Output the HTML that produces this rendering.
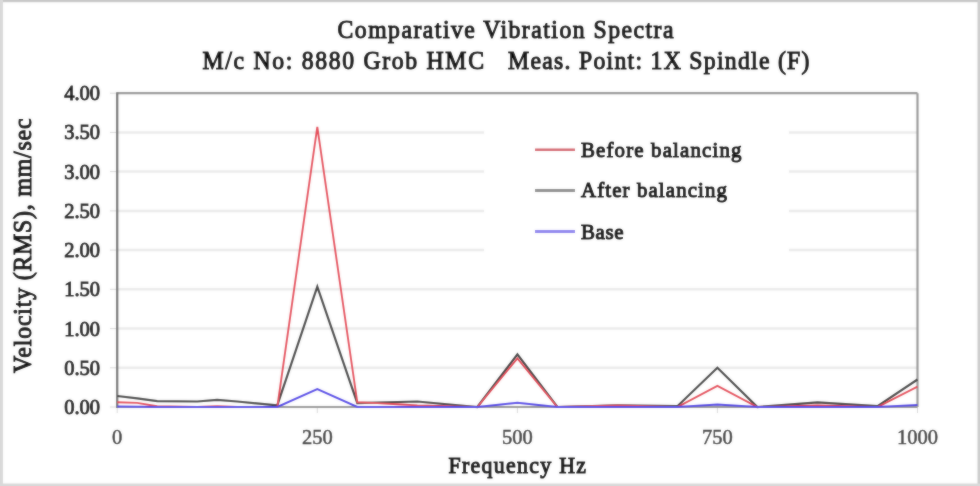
<!DOCTYPE html>
<html><head><meta charset="utf-8"><style>
html,body{margin:0;padding:0;background:#fff;}
body{width:980px;height:486px;overflow:hidden;position:relative;}
svg{position:absolute;left:0;top:0;}
text{font-family:"Liberation Serif",serif;fill:#000000;stroke:#000000;stroke-width:1.1px;}
.lb text{fill:#111;stroke:#111;stroke-width:0.9px;}
.lbx text{fill:#333;stroke:#333;stroke-width:0.5px;}
</style></head><body>
<svg width="980" height="486" viewBox="0 0 980 486">
<defs><filter id="bl" x="0" y="0" width="980" height="486" filterUnits="userSpaceOnUse"><feGaussianBlur stdDeviation="1.0"/></filter></defs>
<g opacity="0.995">
<rect x="0" y="0" width="980" height="486" fill="#fff"/>
<g stroke="#ebebeb" stroke-width="2.5"><line x1="117.2" x2="917.5" y1="367.8" y2="367.8" /><line x1="117.2" x2="917.5" y1="328.6" y2="328.6" /><line x1="117.2" x2="917.5" y1="289.3" y2="289.3" /><line x1="117.2" x2="917.5" y1="250.1" y2="250.1" /><line x1="117.2" x2="917.5" y1="210.9" y2="210.9" /><line x1="117.2" x2="917.5" y1="171.6" y2="171.6" /><line x1="117.2" x2="917.5" y1="132.4" y2="132.4" /></g>
<g stroke="#d8d8d8" stroke-width="1"><line x1="110" x2="117.2" y1="407.0" y2="407.0" /><line x1="110" x2="117.2" y1="367.8" y2="367.8" /><line x1="110" x2="117.2" y1="328.6" y2="328.6" /><line x1="110" x2="117.2" y1="289.3" y2="289.3" /><line x1="110" x2="117.2" y1="250.1" y2="250.1" /><line x1="110" x2="117.2" y1="210.9" y2="210.9" /><line x1="110" x2="117.2" y1="171.6" y2="171.6" /><line x1="110" x2="117.2" y1="132.4" y2="132.4" /><line x1="110" x2="117.2" y1="93.2" y2="93.2" /><line x1="117.2" x2="117.2" y1="407.0" y2="413" /><line x1="317.3" x2="317.3" y1="407.0" y2="413" /><line x1="517.4" x2="517.4" y1="407.0" y2="413" /><line x1="717.4" x2="717.4" y1="407.0" y2="413" /><line x1="917.5" x2="917.5" y1="407.0" y2="413" /></g>
<rect x="484" y="112" width="305" height="160" fill="#fff"/>
<line x1="117.2" x2="917.5" y1="93.2" y2="93.2" stroke="#959595" stroke-width="2.2"/>
<line x1="917.5" x2="917.5" y1="93.2" y2="407.0" stroke="#959595" stroke-width="2.2"/>
<line x1="117.2" x2="917.5" y1="407.0" y2="407.0" stroke="#959595" stroke-width="2.2"/>
<line x1="117.2" x2="117.2" y1="92.2" y2="408.0" stroke="#737373" stroke-width="2.3"/>
<polyline fill="none" stroke="#3c3c3c" stroke-width="2.2" points="117.2,396.0 137.2,398.4 157.2,401.1 197.2,401.5 217.2,399.9 237.2,401.5 277.3,405.4 317.3,286.6 357.3,403.1 417.3,401.5 477.3,407.0 517.4,354.4 557.4,407.0 617.4,405.4 677.4,406.2 717.4,367.8 757.4,407.0 817.5,402.3 877.5,406.2 917.5,379.5"/>
<polyline fill="none" stroke="#e4414f" stroke-width="1.9" points="117.2,402.3 137.2,402.9 157.2,406.2 197.2,407.0 217.2,406.2 237.2,407.0 277.3,407.0 317.3,126.9 357.3,402.3 377.3,403.1 397.3,404.3 417.3,405.4 477.3,407.0 517.4,358.4 557.4,407.0 617.4,405.4 677.4,407.0 717.4,385.8 757.4,407.0 817.5,405.4 877.5,407.0 917.5,386.6"/>
<polyline fill="none" stroke="#4a3ce6" stroke-width="2" points="117.2,406.6 157.2,407.0 277.3,407.0 317.3,389.0 357.3,407.0 477.3,407.0 517.4,402.7 557.4,407.0 677.4,407.0 717.4,404.6 757.4,407.0 877.5,407.0 917.5,405.0"/>
<g font-size="25">
<text transform="translate(337.5,37.8) scale(0.95,1)" textLength="353.7" lengthAdjust="spacing">Comparative Vibration Spectra</text>
<text transform="translate(202.5,69.2) scale(0.95,1)" textLength="296.3" lengthAdjust="spacing">M/c No: 8880 Grob HMC</text>
<text transform="translate(508,69.2) scale(0.95,1)" textLength="317.4" lengthAdjust="spacing">Meas. Point: 1X Spindle (F)</text>
</g>
<g font-size="20.5" class="lb"><text x="100" y="414.0" text-anchor="end">0.00</text><text x="100" y="374.8" text-anchor="end">0.50</text><text x="100" y="335.6" text-anchor="end">1.00</text><text x="100" y="296.3" text-anchor="end">1.50</text><text x="100" y="257.1" text-anchor="end">2.00</text><text x="100" y="217.9" text-anchor="end">2.50</text><text x="100" y="178.6" text-anchor="end">3.00</text><text x="100" y="139.4" text-anchor="end">3.50</text><text x="100" y="100.2" text-anchor="end">4.00</text></g><g font-size="20.5" class="lbx"><text x="117.2" y="444" text-anchor="middle">0</text><text x="317.3" y="444" text-anchor="middle">250</text><text x="517.4" y="444" text-anchor="middle">500</text><text x="717.4" y="444" text-anchor="middle">750</text><text x="917.5" y="444" text-anchor="middle">1000</text></g>
<line x1="535" x2="575" y1="149.7" y2="149.7" stroke="#d4606a" stroke-width="2.4"/>
<line x1="535" x2="575" y1="190.5" y2="190.5" stroke="#8c8c8c" stroke-width="3"/>
<line x1="535" x2="575" y1="231.5" y2="231.5" stroke="#8a80ee" stroke-width="3"/>
<g font-size="22">
<text transform="translate(581,156.5) scale(0.95,1)" textLength="168.9" lengthAdjust="spacing">Before balancing</text>
<text transform="translate(581,197.4) scale(0.95,1)" textLength="153.7" lengthAdjust="spacing">After balancing</text>
<text transform="translate(581,238.5) scale(0.95,1)" textLength="44.7" lengthAdjust="spacing">Base</text>
</g>
<text font-size="23" transform="translate(448.5,473) scale(0.95,1)" textLength="144.7" lengthAdjust="spacing">Frequency Hz</text>
<text font-size="25" transform="translate(31,373) rotate(-90) scale(0.95,1)" textLength="267.9" lengthAdjust="spacing">Velocity (RMS), mm/sec</text>
<rect x="0" y="0" width="980" height="2.2" fill="#c8c8c8"/>
<rect x="0" y="0" width="3" height="486" fill="#dadada"/>
<rect x="977.5" y="0" width="2.5" height="486" fill="#cdcdcd"/>
<rect x="0" y="483.5" width="980" height="2.5" fill="#d9d9d9"/>
</g>
<g filter="url(#bl)" opacity="0.5">
<rect x="0" y="0" width="980" height="486" fill="#fff"/>
<g stroke="#ebebeb" stroke-width="2.5"><line x1="117.2" x2="917.5" y1="367.8" y2="367.8" /><line x1="117.2" x2="917.5" y1="328.6" y2="328.6" /><line x1="117.2" x2="917.5" y1="289.3" y2="289.3" /><line x1="117.2" x2="917.5" y1="250.1" y2="250.1" /><line x1="117.2" x2="917.5" y1="210.9" y2="210.9" /><line x1="117.2" x2="917.5" y1="171.6" y2="171.6" /><line x1="117.2" x2="917.5" y1="132.4" y2="132.4" /></g>
<g stroke="#d8d8d8" stroke-width="1"><line x1="110" x2="117.2" y1="407.0" y2="407.0" /><line x1="110" x2="117.2" y1="367.8" y2="367.8" /><line x1="110" x2="117.2" y1="328.6" y2="328.6" /><line x1="110" x2="117.2" y1="289.3" y2="289.3" /><line x1="110" x2="117.2" y1="250.1" y2="250.1" /><line x1="110" x2="117.2" y1="210.9" y2="210.9" /><line x1="110" x2="117.2" y1="171.6" y2="171.6" /><line x1="110" x2="117.2" y1="132.4" y2="132.4" /><line x1="110" x2="117.2" y1="93.2" y2="93.2" /><line x1="117.2" x2="117.2" y1="407.0" y2="413" /><line x1="317.3" x2="317.3" y1="407.0" y2="413" /><line x1="517.4" x2="517.4" y1="407.0" y2="413" /><line x1="717.4" x2="717.4" y1="407.0" y2="413" /><line x1="917.5" x2="917.5" y1="407.0" y2="413" /></g>
<rect x="484" y="112" width="305" height="160" fill="#fff"/>
<line x1="117.2" x2="917.5" y1="93.2" y2="93.2" stroke="#959595" stroke-width="2.2"/>
<line x1="917.5" x2="917.5" y1="93.2" y2="407.0" stroke="#959595" stroke-width="2.2"/>
<line x1="117.2" x2="917.5" y1="407.0" y2="407.0" stroke="#959595" stroke-width="2.2"/>
<line x1="117.2" x2="117.2" y1="92.2" y2="408.0" stroke="#737373" stroke-width="2.3"/>
<polyline fill="none" stroke="#3c3c3c" stroke-width="2.2" points="117.2,396.0 137.2,398.4 157.2,401.1 197.2,401.5 217.2,399.9 237.2,401.5 277.3,405.4 317.3,286.6 357.3,403.1 417.3,401.5 477.3,407.0 517.4,354.4 557.4,407.0 617.4,405.4 677.4,406.2 717.4,367.8 757.4,407.0 817.5,402.3 877.5,406.2 917.5,379.5"/>
<polyline fill="none" stroke="#e4414f" stroke-width="1.9" points="117.2,402.3 137.2,402.9 157.2,406.2 197.2,407.0 217.2,406.2 237.2,407.0 277.3,407.0 317.3,126.9 357.3,402.3 377.3,403.1 397.3,404.3 417.3,405.4 477.3,407.0 517.4,358.4 557.4,407.0 617.4,405.4 677.4,407.0 717.4,385.8 757.4,407.0 817.5,405.4 877.5,407.0 917.5,386.6"/>
<polyline fill="none" stroke="#4a3ce6" stroke-width="2" points="117.2,406.6 157.2,407.0 277.3,407.0 317.3,389.0 357.3,407.0 477.3,407.0 517.4,402.7 557.4,407.0 677.4,407.0 717.4,404.6 757.4,407.0 877.5,407.0 917.5,405.0"/>
<g font-size="25">
<text transform="translate(337.5,37.8) scale(0.95,1)" textLength="353.7" lengthAdjust="spacing">Comparative Vibration Spectra</text>
<text transform="translate(202.5,69.2) scale(0.95,1)" textLength="296.3" lengthAdjust="spacing">M/c No: 8880 Grob HMC</text>
<text transform="translate(508,69.2) scale(0.95,1)" textLength="317.4" lengthAdjust="spacing">Meas. Point: 1X Spindle (F)</text>
</g>
<g font-size="20.5" class="lb"><text x="100" y="414.0" text-anchor="end">0.00</text><text x="100" y="374.8" text-anchor="end">0.50</text><text x="100" y="335.6" text-anchor="end">1.00</text><text x="100" y="296.3" text-anchor="end">1.50</text><text x="100" y="257.1" text-anchor="end">2.00</text><text x="100" y="217.9" text-anchor="end">2.50</text><text x="100" y="178.6" text-anchor="end">3.00</text><text x="100" y="139.4" text-anchor="end">3.50</text><text x="100" y="100.2" text-anchor="end">4.00</text></g><g font-size="20.5" class="lbx"><text x="117.2" y="444" text-anchor="middle">0</text><text x="317.3" y="444" text-anchor="middle">250</text><text x="517.4" y="444" text-anchor="middle">500</text><text x="717.4" y="444" text-anchor="middle">750</text><text x="917.5" y="444" text-anchor="middle">1000</text></g>
<line x1="535" x2="575" y1="149.7" y2="149.7" stroke="#d4606a" stroke-width="2.4"/>
<line x1="535" x2="575" y1="190.5" y2="190.5" stroke="#8c8c8c" stroke-width="3"/>
<line x1="535" x2="575" y1="231.5" y2="231.5" stroke="#8a80ee" stroke-width="3"/>
<g font-size="22">
<text transform="translate(581,156.5) scale(0.95,1)" textLength="168.9" lengthAdjust="spacing">Before balancing</text>
<text transform="translate(581,197.4) scale(0.95,1)" textLength="153.7" lengthAdjust="spacing">After balancing</text>
<text transform="translate(581,238.5) scale(0.95,1)" textLength="44.7" lengthAdjust="spacing">Base</text>
</g>
<text font-size="23" transform="translate(448.5,473) scale(0.95,1)" textLength="144.7" lengthAdjust="spacing">Frequency Hz</text>
<text font-size="25" transform="translate(31,373) rotate(-90) scale(0.95,1)" textLength="267.9" lengthAdjust="spacing">Velocity (RMS), mm/sec</text>
<rect x="0" y="0" width="980" height="2.2" fill="#c8c8c8"/>
<rect x="0" y="0" width="3" height="486" fill="#dadada"/>
<rect x="977.5" y="0" width="2.5" height="486" fill="#cdcdcd"/>
<rect x="0" y="483.5" width="980" height="2.5" fill="#d9d9d9"/>
</g>
</svg>
</body></html>
